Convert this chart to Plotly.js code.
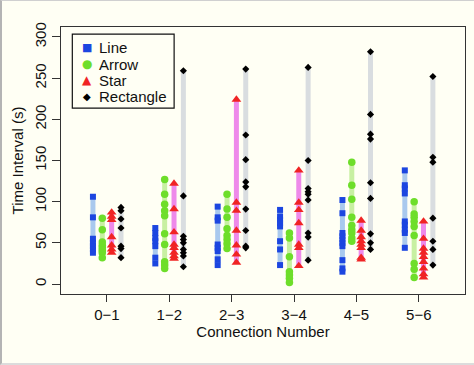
<!DOCTYPE html>
<html>
<head>
<meta charset="utf-8">
<script src="https://cdn.plot.ly/plotly-3.0.1.min.js"></script>
<style>
  html, body { margin: 0; padding: 0; background: #fffff4; }
  #chart { width: 474px; height: 365px; position: relative; }
  #frame { position: absolute; left: 0; top: 0; width: 474px; height: 365px; box-sizing: border-box;
           border-left: 2px solid #b4b4b4; border-top: 1px solid #d0d0d0; border-bottom: 2px solid #dcdcdc;
           pointer-events: none; }
</style>
</head>
<body>
<div id="chart"></div>
<div id="frame"></div>
<script>
// ---- data ----
const categories = ['0\u22121', '1\u22122', '2\u22123', '3\u22124', '4\u22125', '5\u22126'];

const lineValues = [
  [106, 81, 55, 50, 46, 42, 38],
  [68, 62, 56, 52, 46, 32, 25],
  [94, 81, 77, 48, 44, 40, 30, 23],
  [90, 82, 78, 74, 70, 52, 42, 23],
  [102, 86, 62, 58, 54, 50, 46, 29, 19, 15],
  [138, 120, 116, 110, 76, 72, 66, 62, 44]
];
const arrowValues = [
  [80, 66, 51, 47, 44, 41, 38, 32],
  [127, 109, 97, 89, 83, 61, 48, 27, 23, 19],
  [109, 91, 81, 67, 59, 54, 49, 43],
  [62, 56, 33, 15, 11, 7, 2],
  [148, 120, 103, 81, 71, 66, 62, 56, 52],
  [100, 85, 81, 76, 70, 59, 25, 18, 8]
];
const starValues = [
  [87, 82, 78, 57, 47, 42, 38],
  [122, 91, 63, 48, 44, 38, 34, 31],
  [224, 99, 89, 65, 47, 36, 26],
  [138, 99, 90, 74, 48, 44, 22],
  [77, 65, 57, 52, 48, 44, 32, 30],
  [76, 55, 43, 38, 33, 27, 19, 12, 8]
];
const rectangleValues = [
  [93, 89, 79, 68, 46, 43, 32],
  [259, 107, 58, 54, 50, 42, 38, 34, 21],
  [261, 181, 151, 124, 118, 91, 65, 46, 44],
  [263, 150, 116, 112, 109, 102, 62, 57, 29],
  [282, 206, 182, 176, 123, 104, 61, 50, 42],
  [252, 154, 148, 80, 52, 42, 23]
];
const seriesNames = ['Line', 'Arrow', 'Star', 'Rectangle'];
const yTicks = [0, 50, 100, 150, 200, 250, 300];

// ---- styling ----
const series = [
  {name: 'Line', vals: lineValues, off: -0.225, color: '#1c46e0', band: '#a9c9ee', symbol: 'square', size: 6, glyph: '\u25A0', gsize: 11},
  {name: 'Arrow', vals: arrowValues, off: -0.075, color: '#6ede2a', band: '#c8f0a2', symbol: 'circle', size: 7.5, glyph: '\u25CF', gsize: 12},
  {name: 'Star', vals: starValues, off: 0.075, color: '#f02424', band: '#ee8aea', symbol: 'triangle-up', size: 8.5, glyph: '\u25B2', gsize: 12},
  {name: 'Rectangle', vals: rectangleValues, off: 0.225, color: '#000000', band: '#d9dde0', symbol: 'diamond', size: 5.5, glyph: '\u25C6', gsize: 10}
];

const traces = [];
series.forEach(s => {
  const bx = [], by = [];
  s.vals.forEach((v, i) => {
    bx.push(i + s.off, i + s.off, null);
    by.push(Math.min(...v), Math.max(...v), null);
  });
  traces.push({type: 'scatter', mode: 'lines', x: bx, y: by, line: {color: s.band, width: 5},
               showlegend: false, hoverinfo: 'skip'});
});
series.forEach(s => {
  const px = [], py = [];
  s.vals.forEach((v, i) => { v.forEach(val => { px.push(i + s.off); py.push(val); }); });
  traces.push({type: 'scatter', mode: 'markers', name: s.name, x: px, y: py,
               marker: {symbol: s.symbol, size: s.size, color: s.color, line: {width: 0}},
               showlegend: false});
});

// manual legend (R-style compact rows)
const legRows = [0.923, 0.861, 0.801, 0.738];
const annotations = [];
series.forEach((s, k) => {
  annotations.push({xref: 'paper', yref: 'paper', x: 0.064, y: legRows[k], text: s.glyph, showarrow: false,
                    xanchor: 'center', yanchor: 'middle', font: {family: 'DejaVu Sans', size: s.gsize, color: s.color}});
  annotations.push({xref: 'paper', yref: 'paper', x: 0.088, y: legRows[k], text: seriesNames[k], showarrow: false,
                    xanchor: 'left', yanchor: 'middle', font: {family: 'Liberation Sans, Arial, sans-serif', size: 15, color: '#111'}});
});

const layout = {
  width: 474, height: 365,
  margin: {l: 61, r: 9, t: 27, b: 71},
  paper_bgcolor: '#fffff4', plot_bgcolor: '#fffff4',
  font: {family: 'Liberation Sans, Arial, sans-serif', size: 15, color: '#111'},
  showlegend: false,
  xaxis: {
    range: [-0.737, 5.74], tickmode: 'array', tickvals: categories.map((c, i) => i), ticktext: categories,
    showgrid: false, zeroline: false, showline: true, mirror: true, linecolor: '#333', linewidth: 1.4,
    ticks: 'outside', ticklen: 7, tickcolor: '#333', tickwidth: 1,
    title: {text: 'Connection Number', font: {size: 15}, standoff: 4}
  },
  yaxis: {
    range: [-12.1, 312.1], tickmode: 'array', tickvals: yTicks, ticktext: yTicks.map(String), tickangle: -90,
    showgrid: false, zeroline: false, showline: true, mirror: true, linecolor: '#333', linewidth: 1.4,
    ticks: 'outside', ticklen: 8, tickcolor: '#333', tickwidth: 1,
    title: {text: 'Time Interval (s)', font: {size: 15}, standoff: 4}
  },
  shapes: [{type: 'rect', xref: 'paper', yref: 'paper', x0: 0.028, x1: 0.280, y0: 0.696, y1: 0.973,
            line: {color: '#111', width: 1.2}, fillcolor: 'rgba(0,0,0,0)'}],
  annotations: annotations
};

Plotly.newPlot('chart', traces, layout, {displayModeBar: false, staticPlot: true});
</script>
</body>
</html>
